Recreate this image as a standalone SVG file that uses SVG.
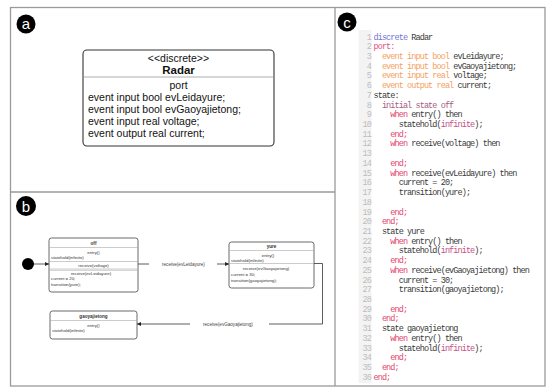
<svg xmlns="http://www.w3.org/2000/svg" width="550" height="391" viewBox="0 0 550 391">
<defs>
<style>
.frame{fill:none;stroke:#9a9a9a;stroke-width:1.3}
.badge{fill:#000}
.badgeT{fill:#fff;font-family:"Liberation Sans",Arial,sans-serif;font-size:15px;text-anchor:middle}
.ua{font-family:"Liberation Sans",Arial,sans-serif;font-size:10.5px;fill:#111}
.uaB{font-family:"Liberation Sans",Arial,sans-serif;font-size:11.5px;font-weight:bold;fill:#111;text-anchor:middle}
.box{fill:#fff;stroke:#333;stroke-width:1.1}
.sbox{fill:#fff;stroke:#444;stroke-width:0.8}
.sep{stroke:#aaa;stroke-width:0.6}
.st{font-family:"Liberation Sans",Arial,sans-serif;font-size:4.3px;fill:#333}
.stB{font-family:"Liberation Sans",Arial,sans-serif;font-size:4.6px;font-weight:bold;fill:#333;text-anchor:middle}
.c{text-anchor:middle}
.lbl{font-family:"Liberation Sans",Arial,sans-serif;font-size:4.6px;fill:#444}
.conn{fill:none;stroke:#333;stroke-width:0.8}
.code{font-family:"Liberation Mono","Courier New",monospace;font-size:8.5px;letter-spacing:-0.9px;fill:#3a3a3a}
.ln{font-family:"Liberation Mono","Courier New",monospace;font-size:8.5px;letter-spacing:-0.9px;fill:#bdbdbd;text-anchor:end}
.kd{fill:#7474d8}
.kp{fill:#e5507c}
.ko{fill:#f4a262}
.km{fill:#a4607f}
.kw{fill:#e2456f}
.ki{fill:#c65088}
</style>
<marker id="ah" viewBox="0 0 6 6" refX="6" refY="3" markerWidth="4" markerHeight="4" orient="auto" markerUnits="userSpaceOnUse">
<path d="M0,0 L6,3 L0,6 z" fill="#222"/>
</marker>
</defs>
<rect width="550" height="391" fill="#fff"/>

<g id="frames">
<rect class="frame" x="10.5" y="7.5" width="534.5" height="378.5"/>
<line class="frame" x1="335" y1="7.5" x2="335" y2="386"/>
<line class="frame" x1="10.5" y1="192" x2="335" y2="192"/>
</g>

<g id="badge-a"><circle class="badge" cx="26" cy="24" r="9.5"/><text class="badgeT" x="26" y="29">a</text></g>
<g id="badge-b"><circle class="badge" cx="26" cy="206" r="10"/><text class="badgeT" x="26" y="211.5">b</text></g>
<g id="badge-c"><circle class="badge" cx="347" cy="22" r="9.5"/><text class="badgeT" x="347" y="27.5">c</text></g>

<g id="radar-class">
<rect class="box" x="83" y="50" width="191" height="96" rx="4"/>
<line x1="83" y1="77" x2="274" y2="77" stroke="#999" stroke-width="0.8"/>
<text class="ua" x="178.5" y="61.5" text-anchor="middle">&lt;&lt;discrete&gt;&gt;</text>
<text class="uaB" x="178.5" y="74">Radar</text>
<text class="ua" x="178.5" y="89" text-anchor="middle">port</text>
<text class="ua" x="88" y="101">event input bool evLeidayure;</text>
<text class="ua" x="88" y="113">event input bool evGaoyajietong;</text>
<text class="ua" x="88" y="125">event input real voltage;</text>
<text class="ua" x="88" y="137">event output real current;</text>
</g>

<g id="initial">
<circle cx="28" cy="264" r="6" fill="#000"/>
</g>
<g id="state-off">
<rect class="sbox" x="49" y="238" width="89" height="54" rx="2.5"/>
<line class="sep" x1="49" y1="247.5" x2="138" y2="247.5"/>
<line class="sep" x1="49" y1="261.5" x2="138" y2="261.5"/>
<line class="sep" x1="49" y1="269" x2="138" y2="269"/>
<line class="sep" x1="49" y1="270.3" x2="138" y2="270.3"/>
<text class="stB" x="93.5" y="244.5">off</text>
<text class="st c" x="93.5" y="253.5">entry()</text>
<text class="st" x="51" y="259">statehold(infinite)</text>
<text class="st c" x="93.5" y="267">receive(voltage)</text>
<text class="st c" x="91" y="274.5">receive(evLeidayure)</text>
<text class="st" x="51" y="280">current = 20;</text>
<text class="st" x="51" y="286">transition(yure);</text>
</g>
<g id="state-yure">
<rect class="sbox" x="229" y="242" width="85" height="46" rx="2.5"/>
<line class="sep" x1="229" y1="250.5" x2="314" y2="250.5"/>
<line class="sep" x1="229" y1="263.5" x2="314" y2="263.5"/>
<text class="stB" x="271.5" y="248">yure</text>
<text class="st c" x="268" y="256.5">entry()</text>
<text class="st" x="231" y="262">statehold(infinite)</text>
<text class="st c" x="266" y="270">receive(evGaoyajietong)</text>
<text class="st" x="231" y="276">current = 30;</text>
<text class="st" x="231" y="282">transition(gaoyajietong);</text>
</g>
<g id="state-gaoyajietong">
<rect class="sbox" x="50" y="311" width="87" height="28" rx="2.5"/>
<line class="sep" x1="50" y1="320.5" x2="137" y2="320.5"/>
<text class="stB" x="93.5" y="317.5">gaoyajietong</text>
<text class="st c" x="93.5" y="326.5">entry()</text>
<text class="st" x="52" y="332">statehold(infinite)</text>
</g>
<g id="connectors">
<line class="conn" x1="34" y1="264" x2="49" y2="264" marker-end="url(#ah)"/>
<line class="conn" x1="138" y1="264" x2="149" y2="264"/>
<text class="lbl" x="162" y="265.5">receive(evLeidayure)</text>
<line class="conn" x1="217" y1="264" x2="229" y2="264" marker-end="url(#ah)"/>
<polyline class="conn" points="314,263.5 322.5,263.5 322.5,324 269,324"/>
<text class="lbl" x="203" y="325.5">receive(evGaoyajietong)</text>
<line class="conn" x1="190" y1="324" x2="137" y2="324" marker-end="url(#ah)"/>
</g>

<g id="code">
<rect x="358.5" y="30" width="13" height="353" fill="#f3f3f3"/>
<text class="ln" x="371" y="39.5">1</text>
<text class="ln" x="371" y="49.2">2</text>
<text class="ln" x="371" y="58.9">3</text>
<text class="ln" x="371" y="68.7">4</text>
<text class="ln" x="371" y="78.4">5</text>
<text class="ln" x="371" y="88.1">6</text>
<text class="ln" x="371" y="97.8">7</text>
<text class="ln" x="371" y="107.5">8</text>
<text class="ln" x="371" y="117.3">9</text>
<text class="ln" x="371" y="127">10</text>
<text class="ln" x="371" y="136.7">11</text>
<text class="ln" x="371" y="146.4">12</text>
<text class="ln" x="371" y="156.1">13</text>
<text class="ln" x="371" y="165.9">14</text>
<text class="ln" x="371" y="175.6">15</text>
<text class="ln" x="371" y="185.3">16</text>
<text class="ln" x="371" y="195">17</text>
<text class="ln" x="371" y="204.7">18</text>
<text class="ln" x="371" y="214.5">19</text>
<text class="ln" x="371" y="224.2">20</text>
<text class="ln" x="371" y="233.9">21</text>
<text class="ln" x="371" y="243.6">22</text>
<text class="ln" x="371" y="253.3">23</text>
<text class="ln" x="371" y="263.1">24</text>
<text class="ln" x="371" y="272.8">25</text>
<text class="ln" x="371" y="282.5">26</text>
<text class="ln" x="371" y="292.2">27</text>
<text class="ln" x="371" y="301.9">28</text>
<text class="ln" x="371" y="311.7">29</text>
<text class="ln" x="371" y="321.4">30</text>
<text class="ln" x="371" y="331.1">31</text>
<text class="ln" x="371" y="340.8">32</text>
<text class="ln" x="371" y="350.5">33</text>
<text class="ln" x="371" y="360.3">34</text>
<text class="ln" x="371" y="370">35</text>
<text class="ln" x="371" y="379.7">36</text>

<text class="code" x="373.5" y="39.5"><tspan class="kd">discrete</tspan> Radar</text>
<text class="code kp" x="373.5" y="49.2">port:</text>
<text class="code" x="381.9" y="58.9"><tspan class="ko">event input bool</tspan> evLeidayure;</text>
<text class="code" x="381.9" y="68.7"><tspan class="ko">event input bool</tspan> evGaoyajietong;</text>
<text class="code" x="381.9" y="78.4"><tspan class="ko">event input real</tspan> voltage;</text>
<text class="code" x="381.9" y="88.1"><tspan class="ko">event output real</tspan> current;</text>
<text class="code" x="373.5" y="97.8">state:</text>
<text class="code km" x="381.9" y="107.5">initial state off</text>
<text class="code" x="390.3" y="117.3"><tspan class="kw">when</tspan> entry() then</text>
<text class="code" x="398.7" y="127">statehold(<tspan class="ki">infinite</tspan>);</text>
<text class="code kw" x="390.3" y="136.7">end;</text>
<text class="code" x="390.3" y="146.4"><tspan class="kw">when</tspan> receive(voltage) then</text>
<text class="code kw" x="390.3" y="165.9">end;</text>
<text class="code" x="390.3" y="175.6"><tspan class="kw">when</tspan> receive(evLeidayure) then</text>
<text class="code" x="398.7" y="185.3">current = 20;</text>
<text class="code" x="398.7" y="195">transition(yure);</text>
<text class="code kw" x="390.3" y="214.5">end;</text>
<text class="code kw" x="381.9" y="224.2">end;</text>
<text class="code" x="381.9" y="233.9">state yure</text>
<text class="code" x="390.3" y="243.6"><tspan class="kw">when</tspan> entry() then</text>
<text class="code" x="398.7" y="253.3">statehold(<tspan class="ki">infinite</tspan>);</text>
<text class="code kw" x="390.3" y="263.1">end;</text>
<text class="code" x="390.3" y="272.8"><tspan class="kw">when</tspan> receive(evGaoyajietong) then</text>
<text class="code" x="398.7" y="282.5">current = 30;</text>
<text class="code" x="398.7" y="292.2">transition(gaoyajietong);</text>
<text class="code kw" x="390.3" y="311.7">end;</text>
<text class="code kw" x="381.9" y="321.4">end;</text>
<text class="code" x="381.9" y="331.1">state gaoyajietong</text>
<text class="code" x="390.3" y="340.8"><tspan class="kw">when</tspan> entry() then</text>
<text class="code" x="398.7" y="350.5">statehold(<tspan class="ki">infinite</tspan>);</text>
<text class="code kw" x="390.3" y="360.3">end;</text>
<text class="code kw" x="381.9" y="370">end;</text>
<text class="code kw" x="373.5" y="379.7">end;</text>
</g>
</svg>
